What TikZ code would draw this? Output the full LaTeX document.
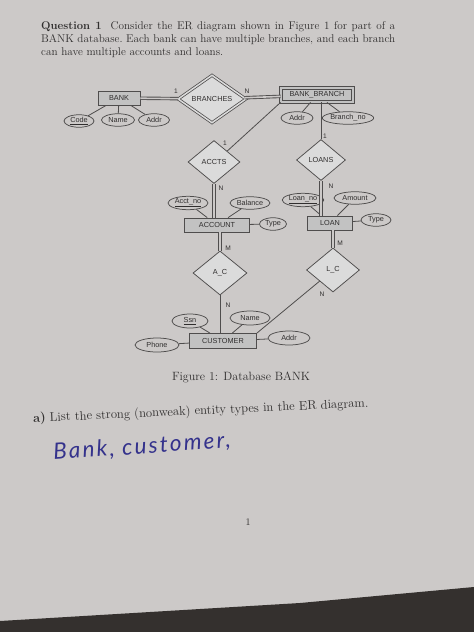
\documentclass[tikz,border=0pt]{standalone}
\usepackage{fontspec}
\newfontfamily\erfont{Liberation Sans}
\newfontfamily\handfont[LetterSpace=10]{Lato}
\usetikzlibrary{shapes.geometric,positioning}

\definecolor{paper}{RGB}{204,201,200}
\definecolor{desk}{RGB}{52,48,46}
\definecolor{ink}{RGB}{48,46,46}
\definecolor{pen}{RGB}{52,50,140}

\tikzset{
  erlabel/.style={font=\erfont\fontsize{7.3}{8}\selectfont, text=ink},
  entity/.style={erlabel, draw=ink!85, line width=0.8pt, fill=black!24, rectangle, minimum height=14pt, inner sep=1pt},
  weakentity/.style={entity, double=black!24, double distance=1.5pt},
  attr/.style={erlabel, draw=ink!85, line width=0.75pt, ellipse, minimum height=12.5pt, inner sep=0.5pt},
  rel/.style={erlabel, draw=ink!85, line width=0.75pt, fill=black!14, diamond, inner sep=0.5pt},
  identrel/.style={rel, double=black!14, double distance=1.5pt},
  link/.style={draw=ink!85, line width=0.8pt},
  total/.style={link, line width=0.9pt, double=paper, double distance=1.6pt},
  card/.style={font=\erfont\fontsize{6.6}{7}\selectfont, text=ink, inner sep=0.5pt},
}

\begin{document}
\begin{tikzpicture}[x=1pt,y=-1pt]
  % photographed page
  \fill[paper] (0,0) rectangle (474,632);
  \fill[desk] (0,621) -- (300,603) -- (474,587) -- (474,632) -- (0,632) -- cycle;
  \useasboundingbox (0,0) rectangle (474,632);

  % question text
  \node[anchor=north west, align=left, text=ink, font=\fontsize{11.2}{13}\selectfont, inner sep=0pt]
    (question) at (41,21) {\makebox[354pt][s]{\textbf{Question 1}\ \ Consider the ER diagram shown in Figure 1 for part of a}\\
    \makebox[354pt][s]{BANK database.\ Each bank can have multiple branches, and each branch}\\
    can have multiple accounts and loans.};

  % entities
  \node[entity, minimum width=42pt] (bank) at (119,98) {BANK};
  \node[weakentity, minimum width=72pt, minimum height=14pt] (branch) at (317,95) {BANK\_BRANCH};
  \node[entity, minimum width=65pt] (account) at (217,225) {ACCOUNT};
  \node[entity, minimum width=45pt] (loan) at (330,223) {LOAN};
  \node[entity, minimum width=67pt, minimum height=15pt] (customer) at (223,341) {CUSTOMER};

  % relationships
  \node[identrel, minimum width=68pt, minimum height=46pt] (branches) at (212,99) {BRANCHES};
  \node[rel, minimum width=52pt, minimum height=43pt] (accts) at (214,162) {ACCTS};
  \node[rel, minimum width=49pt, minimum height=41pt] (loans) at (321,160) {LOANS};
  \node[rel, minimum width=54pt, minimum height=44pt] (ac) at (220,273) {A\_C};
  \node[rel, minimum width=53pt, minimum height=44pt] (lc) at (333,270) {L\_C};

  % attributes
  \node[attr, minimum width=30pt] (bcode) at (79,121) {\underline{Code}};
  \node[attr, minimum width=33pt] (bname) at (118,120) {Name};
  \node[attr, minimum width=31pt] (baddr) at (154,120) {Addr};
  \node[attr, minimum width=32pt] (braddr) at (297,118) {Addr};
  \node[attr, minimum width=50pt] (brno) at (348,118) {Branch\_no};
  \node[attr, minimum width=40pt] (acctno) at (188,203) {\underline{Acct\_no}};
  \node[attr, minimum width=40pt] (balance) at (250,203) {Balance};
  \node[attr, minimum width=27pt] (atype) at (273,224) {Type};
  \node[attr, minimum width=36pt] (loanno) at (303,200) {\underline{Loan\_no}};
  \node[attr, minimum width=42pt] (amount) at (355,198) {Amount};
  \node[attr, minimum width=30pt] (ltype) at (376,220) {Type};
  \node[attr, minimum width=36pt, minimum height=14pt] (ssn) at (190,321) {\underline{Ssn}};
  \node[attr, minimum width=40pt, minimum height=14pt] (cname) at (250,318) {Name};
  \node[attr, minimum width=44pt, minimum height=14pt] (phone) at (157,345) {Phone};
  \node[attr, minimum width=42pt, minimum height=14pt] (caddr) at (289,338) {Addr};

  % attribute links
  \foreach \a in {bcode,bname,baddr} \draw[link] (bank) -- (\a);
  \foreach \a in {braddr,brno} \draw[link] (branch) -- (\a);
  \foreach \a in {acctno,balance,atype} \draw[link] (account) -- (\a);
  \foreach \a in {loanno,amount,ltype} \draw[link] (loan) -- (\a);
  \foreach \a in {ssn,cname,phone,caddr} \draw[link] (customer) -- (\a);

  % relationship links
  \draw[total] (bank) -- (branches);
  \draw[total] (branches) -- (branch);
  \draw[link] (branch.south west) -- (accts.north east);
  \draw[link] (branch.south -| loans.north) -- (loans.north);
  \draw[total] (accts.south) -- (account.north -| accts.south);
  \draw[total] (loans.south) -- (loan.north -| loans.south);
  \draw[total] (account.south -| ac.north) -- (ac.north);
  \draw[total] (loan.south -| lc.north) -- (lc.north);
  \draw[link] (ac.south) -- (customer.north -| ac.south);
  \draw[link] (lc.south west) -- (customer.north east);

  % cardinalities
  \node[card] (c1) at (176,91) {1};
  \node[card] (c2) at (247,91) {N};
  \node[card] (c3) at (225,143) {1};
  \node[card] (c4) at (221,188) {N};
  \node[card] (c5) at (325,136) {1};
  \node[card] (c6) at (331,186) {N};
  \node[card] (c7) at (228,248) {M};
  \node[card] (c8) at (340,243) {M};
  \node[card] (c9) at (228,305) {N};
  \node[card] (c10) at (322,294) {N};

  % caption and question
  \node[text=ink, font=\fontsize{12}{14}\selectfont] (caption) at (241,377) {Figure 1: Database BANK};
  \node[anchor=west, text=ink, font=\fontsize{12.7}{14}\selectfont, rotate=2.6, inner sep=0pt]
    (parta) at (33,419) {\textbf{a)}\ List the strong (nonweak) entity types in the ER diagram.};
  \node[text=pen, font=\handfont\itshape\fontsize{22.5}{24}\selectfont, rotate=4] (answer) at (142,447) {Bank, customer,};
  \node[text=ink, font=\fontsize{10}{12}\selectfont] (pageno) at (248,522) {1};
\end{tikzpicture}
\end{document}
